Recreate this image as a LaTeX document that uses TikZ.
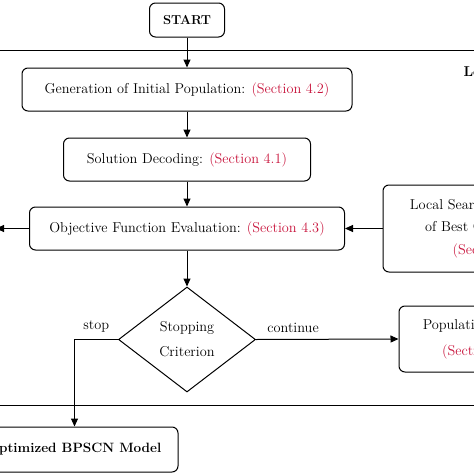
\documentclass[tikz,border=0pt]{standalone}
\usetikzlibrary{arrows.meta,positioning,shapes.geometric}
\definecolor{secred}{RGB}{200,20,60}

\begin{document}
\begin{tikzpicture}[x=1pt, y=-1pt,
    box/.style={rectangle, draw, line width=1pt, rounded corners=6pt, minimum height=43pt, align=center, font=\fontsize{14.3}{19}\selectfont},
    decision/.style={diamond, draw, line width=1pt, inner sep=0pt, minimum width=137pt, minimum height=105pt, align=center, font=\fontsize{14.3}{25}\selectfont},
    flow/.style={line width=1pt, -{Triangle[length=8pt,width=7pt]}},
    lbl/.style={font=\fontsize{14.3}{17}\selectfont}
]
    \useasboundingbox (0,0) rectangle (474,474);
    \clip (0,0) rectangle (474,474);

    % Loop frame
    \draw[line width=1pt] (-40,50) rectangle (530,405);
    \node[anchor=west, font=\fontsize{14.3}{17}\selectfont\bfseries] (looplbl) at (460,73) {Loop};

    % Main chain
    \node[box, minimum height=34pt, minimum width=75pt, font=\fontsize{13}{15}\selectfont\bfseries] (start) at (187,20) {START};
    \node[box, minimum width=330pt] (gen) at (187,89.5) {Generation of Initial Population: \textcolor{secred}{(Section 4.2)}};
    \node[box, minimum width=247pt] (dec) at (187,159.5) {Solution Decoding: \textcolor{secred}{(Section 4.1)}};
    \node[box, minimum width=315pt] (obj) at (187,228.5) {Objective Function Evaluation: \textcolor{secred}{(Section 4.3)}};
    \node[decision] (crit) at (187,339.5) {Stopping\\Criterion};

    % Side boxes
    \node[box, minimum width=217pt, minimum height=87pt, font=\fontsize{14.3}{22.5}\selectfont] (ls) at (491.5,228.5) {Local Search Improvement\\of Best Chromosomes\\\textcolor{secred}{(Section 4.4)}};
    \node[box, minimum width=164pt, minimum height=66pt, font=\fontsize{14.3}{26}\selectfont] (pop) at (481,339) {Population Update\\\textcolor{secred}{(Section 4.5)}};
    \node[box, minimum width=207pt, minimum height=45pt, font=\fontsize{13.5}{16}\selectfont\bfseries] (opt) at (74.5,449.5) {Optimized BPSCN Model};

    \coordinate (lft) at (-4,228.5);

    % Connectors
    \draw[flow] (start) -- (gen);
    \draw[flow] (gen) -- (dec);
    \draw[flow] (dec) -- (obj);
    \draw[flow] (obj) -- (crit);
    \draw[flow] (obj.west) -- (lft);
    \draw[flow] (ls.west) -- (obj.east);
    \draw[flow] (crit.east) -- node[lbl, pos=0.26, above=3pt] (contlbl) {continue} (pop.west);
    \draw[flow] (crit.west) -| node[lbl, pos=0.25, above=3pt] (stoplbl) {stop} (opt.north);
\end{tikzpicture}
\end{document}
